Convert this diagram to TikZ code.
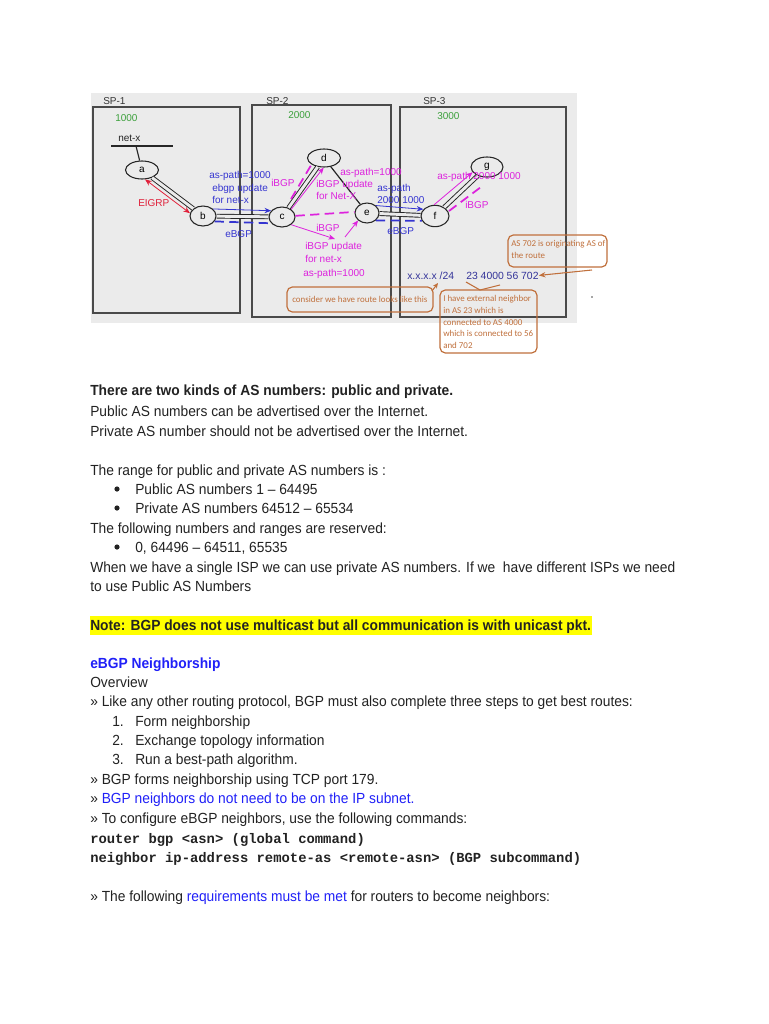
\documentclass[tikz,border=0pt]{standalone}
\usepackage{fontspec}
\setmainfont{Liberation Sans}
\setmonofont{Liberation Mono}
\newfontfamily\carl{Carlito}
\newfontfamily\bodyf[FakeStretch=0.94]{Liberation Sans}
\usetikzlibrary{shapes.geometric,arrows.meta,calc}
\definecolor{bg}{HTML}{EBEBEB}
\definecolor{boxc}{HTML}{4A4A4A}
\definecolor{blu}{HTML}{3535D0}
\definecolor{mag}{HTML}{DD22DD}
\definecolor{redt}{HTML}{E0203A}
\definecolor{grn}{HTML}{3CA03C}
\definecolor{brn}{HTML}{C0703C}
\definecolor{bodyc}{HTML}{222222}
\definecolor{lnkc}{HTML}{2020F8}
\definecolor{pathc}{HTML}{333399}
\definecolor{hl}{HTML}{FFFF00}
\tikzset{
  rt/.style={ellipse, draw=black!85, fill=bg, line width=0.8pt, inner sep=0pt, font=\fontsize{7.5}{8}\selectfont},
  lnk/.style={draw=black!85, double=bg, double distance=2.2pt, line width=0.7pt},
  sl/.style={draw=black!85, line width=0.9pt},
  mdash/.style={draw=mag, line width=1.3pt, dash pattern=on 7pt off 4pt},
  marr/.style={draw=mag, line width=0.6pt, -{Stealth[length=5pt,width=4pt]}},
  bdash/.style={draw=blu, line width=1.3pt, dash pattern=on 7pt off 4pt},
  barr/.style={draw=blu, line width=0.6pt, -{Stealth[length=5pt,width=4pt]}},
  lbl/.style={font=\fontsize{7.5}{9}\selectfont, inner sep=0pt, anchor=base west},
  asbox/.style={draw=boxc, line width=1.3pt},
  callout/.style={draw=brn, rounded corners=4pt, line width=0.9pt},
  ctext/.style={font=\carl\fontsize{6.7}{8}\selectfont, text=brn, inner sep=0pt, anchor=base west},
  body/.style={anchor=base west, inner sep=0pt, font=\bodyf\fontsize{11}{13}\selectfont, text=bodyc},
  bodyb/.style={body, font=\bodyf\bfseries\fontsize{11}{13}\selectfont},
  mono/.style={anchor=base west, inner sep=0pt, font=\ttfamily\bfseries\fontsize{10.4}{12}\selectfont, text=bodyc},
}
\begin{document}
\begin{tikzpicture}[x=0.75pt,y=-0.75pt]
\useasboundingbox (0,0) rectangle (768,1024);
\fill[white] (0,0) rectangle (768,1024);
% diagram background
\fill[bg] (91,93) rectangle (577,323);
% AS boxes
\draw[asbox] (93,107) rectangle (240,313);
\draw[asbox] (252,105) rectangle (391,317);
\draw[asbox] (400,107) rectangle (566,317);
\node[lbl, text=black!80] (sp1) at (103,104) {SP-1};
\node[lbl, text=grn] (n1000) at (115,121) {1000};
\node[lbl, text=black!80] (sp2) at (266,104) {SP-2};
\node[lbl, text=grn] (n2000) at (288,118) {2000};
\node[lbl, text=black!80] (sp3) at (423,104) {SP-3};
\node[lbl, text=grn] (n3000) at (437,119) {3000};
% net-x
\node[lbl, text=black!85] (netx) at (118,142) {net-x};
\coordinate (nx1) at (111,146);
\coordinate (nx2) at (173,146);
\coordinate (nxa) at (136,146);
\draw[sl] (nx1) -- (nx2);
% routers
\node[rt, minimum width=24.75pt, minimum height=13.5pt] (a) at (142,170) {a};
\node[rt, minimum width=19.5pt, minimum height=15pt] (b) at (203,216) {b};
\node[rt, minimum width=19.5pt, minimum height=15pt] (c) at (282,217) {c};
\node[rt, minimum width=24.75pt, minimum height=13.5pt] (d) at (324,158) {d};
\node[rt, minimum width=18pt, minimum height=15pt] (e) at (367,213) {e};
\node[rt, minimum width=21pt, minimum height=16pt] (f) at (435,216) {f};
\node[rt, minimum width=24pt, minimum height=15pt] (g) at (487,167) {g};
% physical links
\draw[sl] (nxa) -- (a);
\draw[lnk] (a) -- (b);
\draw[lnk] (b) -- (c);
\draw[lnk] (c) -- (d);
\draw[sl] (d) -- (e);
\draw[lnk] (e) -- (f);
\draw[lnk] (f) -- (g);
% EIGRP
\draw[draw=redt, line width=0.6pt, {Stealth[length=5pt,width=4pt]}-{Stealth[length=5pt,width=4pt]}] (a.-72) -- (b.168);
\node[lbl, text=redt] (eigrp) at (138,206) {EIGRP};
% b-c eBGP
\draw[barr] (b.35) -- (c.150);
\draw[bdash] (b.-25) -- (c.-150);
\node[lbl, text=blu] (bc1) at (209,178) {as-path=1000};
\node[lbl, text=blu] (bc2) at (212,191) {ebgp update};
\node[lbl, text=blu] (bc3) at (212,203) {for net-x};
\node[lbl, text=blu] (ebgp1) at (225,237) {eBGP};
% c-d iBGP
\coordinate (cd1) at (291,199);
\coordinate (cd2) at (313,162);
\draw[mdash] (cd1) -- (cd2);
\draw[marr] (c.40) -- (d.-92);
\node[lbl, text=mag] (ibgp1) at (271,186) {iBGP};
\node[lbl, text=mag] (cdl1) at (340,175) {as-path=1000};
\node[lbl, text=mag] (cdl2) at (316,187) {iBGP update};
\node[lbl, text=mag] (cdl3) at (316,199) {for Net-X};
% c-e iBGP
\draw[mdash] (c.5) -- (e.175);
\coordinate (ce1) at (335,239);
\coordinate (ce2) at (345,237);
\draw[marr] (c.-40) -- (ce1);
\draw[marr] (ce2) -- (e.-140);
\node[lbl, text=mag] (ibgp2) at (316,231) {iBGP};
\node[lbl, text=mag] (cel1) at (305,249) {iBGP update};
\node[lbl, text=mag] (cel2) at (305,262) {for net-x};
\node[lbl, text=mag] (cel3) at (303,276) {as-path=1000};
% e-f eBGP
\draw[barr] (e.40) -- (f.150);
\draw[bdash] (e.-40) -- (f.-160);
\node[lbl, text=blu] (efl1) at (377,191) {as-path};
\node[lbl, text=blu] (efl2) at (377,203) {2000 1000};
\node[lbl, text=blu] (ebgp2) at (387,234) {eBGP};
% f-g iBGP
\coordinate (fg1) at (449,211);
\coordinate (fg2) at (481,187);
\draw[mdash] (fg1) -- (fg2);
\draw[marr] (f.95) -- (g.-160);
\node[lbl, text=mag] (fgl) at (437,179) {as-path 2000 1000};
\node[lbl, text=mag] (ibgp3) at (465,208) {iBGP};
% route
\node[lbl, text=pathc, font=\fontsize{7.8}{9}\selectfont] (xx) at (407,279) {x.x.x.x /24};
\node[lbl, text=pathc, font=\fontsize{7.8}{9}\selectfont] (asp) at (466,279) {23 4000 56 702};
% callouts
\node[callout, minimum width=109.5pt, minimum height=18.75pt, inner sep=0pt] (c1) at (360,299.5) {};
\node[ctext] (c1t) at (292,302) {consider we have route looks like this};
\node[callout, minimum width=74.25pt, minimum height=24pt, inner sep=0pt] (c2) at (557.5,251) {};
\node[ctext] (c2t1) at (511,246) {AS 702 is originating AS of};
\node[ctext] (c2t2) at (511,258) {the route};
\node[callout, minimum width=72.75pt, minimum height=47.25pt, inner sep=0pt] (c3) at (488.5,321.5) {};
\node[ctext] (c3t1) at (443,301) {I have external neighbor};
\node[ctext] (c3t2) at (443,313) {in AS 23 which is};
\node[ctext] (c3t3) at (443,325) {connected to AS 4000};
\node[ctext] (c3t4) at (443,336) {which is connected to 56};
\node[ctext] (c3t5) at (443,348) {and 702};
\coordinate (p1) at (432,291);
\coordinate (p1t) at (438,283);
\draw[brn, line width=0.8pt, -{Stealth[length=4pt,width=3.5pt]}] (p1) -- (p1t);
\coordinate (p2) at (592,270);
\draw[brn, line width=0.8pt, -{Stealth[length=5pt,width=4pt]}] (p2) -- (asp.east);
\coordinate (p3a) at (466,282);
\coordinate (p3b) at (480,290);
\coordinate (p3c) at (500,285);
\draw[brn, line width=0.8pt] (p3a) -- (p3b) -- (p3c);
\fill[black!70] (592,297) circle (0.9);
% body text
\node[bodyb] (t1) at (90,395) {There are two kinds of AS numbers: public and private.};
\node[body] (t2) at (90,416) {Public AS numbers can be advertised over the Internet.};
\node[body] (t3) at (90,436) {Private AS number should not be advertised over the Internet.};
\node[body] (t4) at (90,475) {The range for public and private AS numbers is :};
\fill[bodyc] (117,489) circle (2.6);
\node[body] (t5) at (135,494) {Public AS numbers 1 – 64495};
\fill[bodyc] (117,508) circle (2.6);
\node[body] (t6) at (135,513) {Private AS numbers 64512 – 65534};
\node[body] (t7) at (90,533) {The following numbers and ranges are reserved:};
\fill[bodyc] (117,547) circle (2.6);
\node[body] (t8) at (135,552) {0, 64496 – 64511, 65535};
\node[body] (t9) at (90,572) {When we have a single ISP we can use private AS numbers. If we\ \ have different ISPs we need};
\node[body] (t10) at (90,591) {to use Public AS Numbers};
\fill[hl] (90,616) rectangle (592,635);
\node[bodyb] (t11) at (90,630) {Note: BGP does not use multicast but all communication is with unicast pkt.};
\node[bodyb, text=lnkc] (t12) at (90,668) {eBGP Neighborship};
\node[body] (t13) at (90,687) {Overview};
\node[body] (t14) at (90,706) {» Like any other routing protocol, BGP must also complete three steps to get best routes:};
\node[body] (t15n) at (112,726) {1.};
\node[body] (t15) at (135,726) {Form neighborship};
\node[body] (t16n) at (112,745) {2.};
\node[body] (t16) at (135,745) {Exchange topology information};
\node[body] (t17n) at (112,764) {3.};
\node[body] (t17) at (135,764) {Run a best-path algorithm.};
\node[body] (t18) at (90,784) {» BGP forms neighborship using TCP port 179.};
\node[body] (t19) at (90,803) {» \textcolor{lnkc}{BGP neighbors do not need to be on the IP subnet.}};
\node[body] (t20) at (90,823) {» To configure eBGP neighbors, use the following commands:};
\node[mono] (t21) at (90,843) {router bgp <asn> (global command)};
\node[mono] (t22) at (90,862) {neighbor ip-address remote-as <remote-asn> (BGP subcommand)};
\node[body] (t23) at (90,901) {» The following \textcolor{lnkc}{requirements must be met} for routers to become neighbors:};
\end{tikzpicture}
\end{document}
